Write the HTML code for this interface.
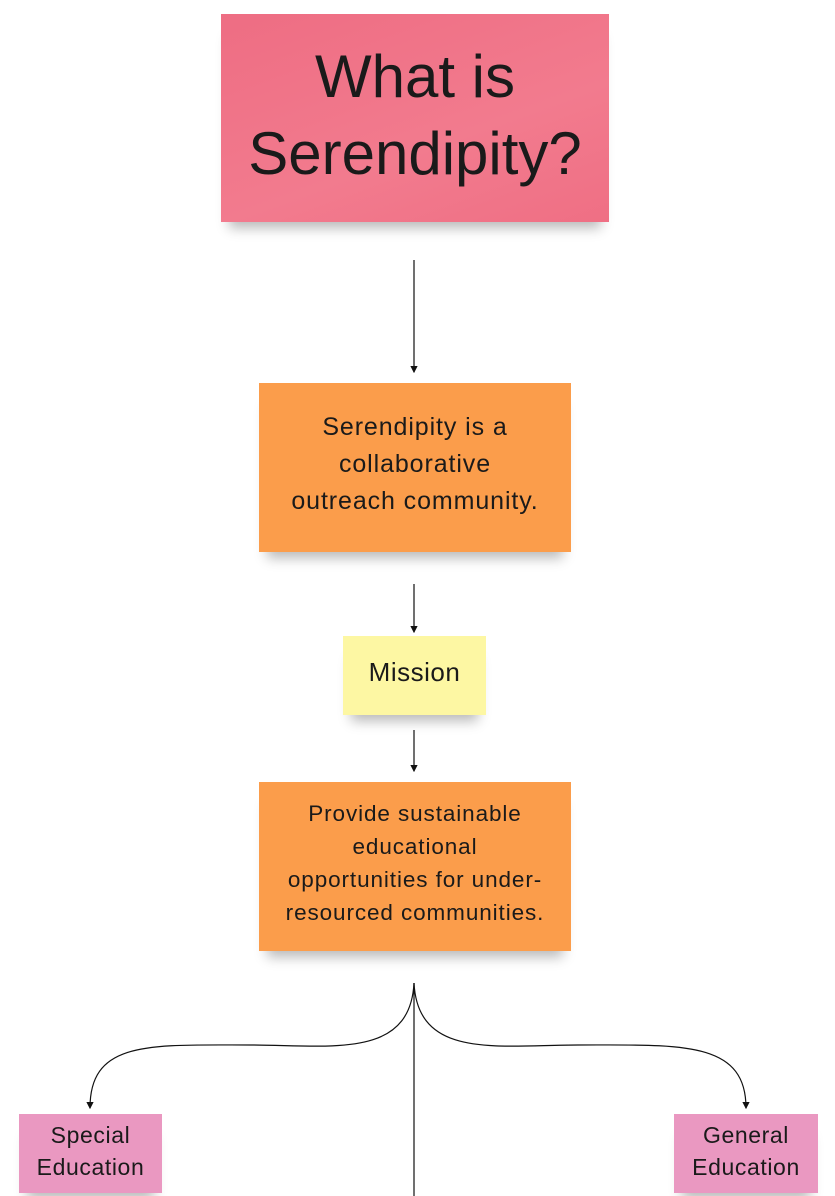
<!DOCTYPE html>
<html><head><style>
body{margin:0;width:835px;height:1196px;background:#fff;position:relative;overflow:hidden;font-family:"Liberation Sans",sans-serif;color:#1a1a1a}
.n{position:absolute;display:flex;align-items:center;justify-content:center;text-align:center;box-shadow:0 14px 12px -8px rgba(0,0,0,.28)}
svg{position:absolute;left:0;top:0}
</style></head><body>
<div class="n" style="left:221px;top:14px;width:388px;height:208px;background:linear-gradient(160deg,#ee6d83,#f27b8e 60%,#ef6f84);font-size:60px;line-height:77px;padding-bottom:6px;box-sizing:border-box">What is<br>Serendipity?</div>
<div class="n" style="left:259px;top:383px;width:312px;height:169px;background:#fb9d4b;font-size:25px;letter-spacing:0.9px;line-height:37px;padding-bottom:6px;box-sizing:border-box">Serendipity is a<br>collaborative<br>outreach community.</div>
<div class="n" style="left:343px;top:636px;width:143px;height:79px;background:#fdf7a3;font-size:26px;letter-spacing:0.5px;padding-bottom:6px;box-sizing:border-box">Mission</div>
<div class="n" style="left:259px;top:782px;width:312px;height:169px;background:#fb9d4b;font-size:22.5px;letter-spacing:0.9px;line-height:33px;padding-bottom:8px;box-sizing:border-box">Provide sustainable<br>educational<br>opportunities for under-<br>resourced communities.</div>
<div class="n" style="left:19px;top:1114px;width:143px;height:79px;background:#ea98c1;font-size:23px;letter-spacing:0.6px;line-height:32px;padding-bottom:6px;box-sizing:border-box">Special<br>Education</div>
<div class="n" style="left:674px;top:1114px;width:144px;height:79px;background:#ea98c1;font-size:23px;letter-spacing:0.6px;line-height:32px;padding-bottom:6px;box-sizing:border-box">General<br>Education</div>
<svg width="835" height="1196">
<defs><marker id="a" markerWidth="6" markerHeight="6" refX="5" refY="3" orient="auto"><path d="M0,0L6,3L0,6z" fill="#111"/></marker></defs>
<g stroke="#111" stroke-width="1.2" fill="none">
<line x1="414" y1="260" x2="414" y2="372" marker-end="url(#a)"/>
<line x1="414" y1="584" x2="414" y2="632" marker-end="url(#a)"/>
<line x1="414" y1="730" x2="414" y2="771" marker-end="url(#a)"/>
<line x1="414" y1="983" x2="414" y2="1196"/>
<path d="M414,983 C410,1060 330,1045 250,1045 C150,1045 90,1040 90,1108" marker-end="url(#a)"/>
<path d="M414,983 C418,1060 498,1045 578,1045 C680,1045 746,1040 746,1108" marker-end="url(#a)"/>
</g></svg>
</body></html>
